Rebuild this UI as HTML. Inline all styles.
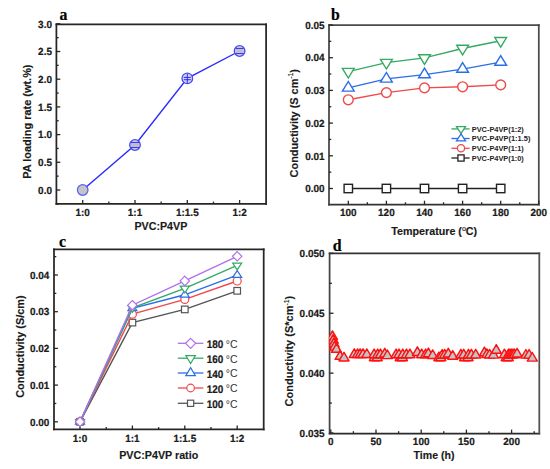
<!DOCTYPE html>
<html><head><meta charset="utf-8"><style>
html,body{margin:0;padding:0;background:#fff;}
svg{display:block;}
.tk{font-family:"Liberation Sans",sans-serif;font-weight:bold;font-size:10px;fill:#1a1a1a;stroke:#1a1a1a;stroke-width:0.2px;}
.tt{font-family:"Liberation Sans",sans-serif;font-weight:bold;font-size:10.5px;fill:#1a1a1a;stroke:#1a1a1a;stroke-width:0.15px;}
.lg{font-family:"Liberation Sans",sans-serif;font-weight:bold;font-size:7px;fill:#222;}
.dg{font-family:"Liberation Sans",sans-serif;font-size:10.5px;fill:#333;}
.lc{font-family:"Liberation Sans",sans-serif;font-weight:bold;font-size:10px;fill:#1a1a1a;stroke:#1a1a1a;stroke-width:0.2px;}
.pl{font-family:"Liberation Serif",serif;font-weight:bold;font-size:15.8px;fill:#000;stroke:#000;stroke-width:0.2px;}
</style></head><body>
<svg width="550" height="469" viewBox="0 0 550 469">
<defs><clipPath id="clipd"><rect x="328.90000000000003" y="253.4" width="209.69999999999993" height="180.1"/></clipPath></defs>
<rect width="550" height="469" fill="#fff"/>
<line x1="55.525" y1="24.3" x2="266.975" y2="24.3" stroke="#262626" stroke-width="1.75"/>
<line x1="55.525" y1="203.9" x2="266.975" y2="203.9" stroke="#262626" stroke-width="1.75"/>
<line x1="56.4" y1="23.425" x2="56.4" y2="204.775" stroke="#262626" stroke-width="1.75"/>
<line x1="266.1" y1="23.425" x2="266.1" y2="204.775" stroke="#262626" stroke-width="1.75"/>
<line x1="56.4" y1="190.00" x2="60.3" y2="190.00" stroke="#262626" stroke-width="1.3"/>
<line x1="56.4" y1="162.30" x2="60.3" y2="162.30" stroke="#262626" stroke-width="1.3"/>
<line x1="56.4" y1="134.60" x2="60.3" y2="134.60" stroke="#262626" stroke-width="1.3"/>
<line x1="56.4" y1="106.90" x2="60.3" y2="106.90" stroke="#262626" stroke-width="1.3"/>
<line x1="56.4" y1="79.20" x2="60.3" y2="79.20" stroke="#262626" stroke-width="1.3"/>
<line x1="56.4" y1="51.50" x2="60.3" y2="51.50" stroke="#262626" stroke-width="1.3"/>
<line x1="56.4" y1="23.80" x2="60.3" y2="23.80" stroke="#262626" stroke-width="1.3"/>
<line x1="56.4" y1="176.15" x2="58.699999999999996" y2="176.15" stroke="#262626" stroke-width="1.3"/>
<line x1="56.4" y1="148.45" x2="58.699999999999996" y2="148.45" stroke="#262626" stroke-width="1.3"/>
<line x1="56.4" y1="120.75" x2="58.699999999999996" y2="120.75" stroke="#262626" stroke-width="1.3"/>
<line x1="56.4" y1="93.05" x2="58.699999999999996" y2="93.05" stroke="#262626" stroke-width="1.3"/>
<line x1="56.4" y1="65.35" x2="58.699999999999996" y2="65.35" stroke="#262626" stroke-width="1.3"/>
<line x1="56.4" y1="37.65" x2="58.699999999999996" y2="37.65" stroke="#262626" stroke-width="1.3"/>
<line x1="56.4" y1="203.85" x2="58.699999999999996" y2="203.85" stroke="#262626" stroke-width="1.3"/>
<text transform="translate(52,193.70) skewX(0.2) scale(1,1.04)" class="tk" text-anchor="end">0.0</text>
<text transform="translate(52,166.00) skewX(0.2) scale(1,1.04)" class="tk" text-anchor="end">0.5</text>
<text transform="translate(52,138.30) skewX(0.2) scale(1,1.04)" class="tk" text-anchor="end">1.0</text>
<text transform="translate(52,110.60) skewX(0.2) scale(1,1.04)" class="tk" text-anchor="end">1.5</text>
<text transform="translate(52,82.90) skewX(0.2) scale(1,1.04)" class="tk" text-anchor="end">2.0</text>
<text transform="translate(52,55.20) skewX(0.2) scale(1,1.04)" class="tk" text-anchor="end">2.5</text>
<text transform="translate(52,27.50) skewX(0.2) scale(1,1.04)" class="tk" text-anchor="end">3.0</text>
<line x1="82.70" y1="203.9" x2="82.70" y2="200.0" stroke="#262626" stroke-width="1.3"/>
<line x1="135.00" y1="203.9" x2="135.00" y2="200.0" stroke="#262626" stroke-width="1.3"/>
<line x1="187.30" y1="203.9" x2="187.30" y2="200.0" stroke="#262626" stroke-width="1.3"/>
<line x1="239.60" y1="203.9" x2="239.60" y2="200.0" stroke="#262626" stroke-width="1.3"/>
<line x1="108.85" y1="203.9" x2="108.85" y2="201.6" stroke="#262626" stroke-width="1.3"/>
<line x1="161.15" y1="203.9" x2="161.15" y2="201.6" stroke="#262626" stroke-width="1.3"/>
<line x1="213.45" y1="203.9" x2="213.45" y2="201.6" stroke="#262626" stroke-width="1.3"/>
<text transform="translate(82.70,215.8) skewX(0.2) scale(1,1.04)" class="tk" text-anchor="middle">1:0</text>
<text transform="translate(135.00,215.8) skewX(0.2) scale(1,1.04)" class="tk" text-anchor="middle">1:1</text>
<text transform="translate(187.30,215.8) skewX(0.2) scale(1,1.04)" class="tk" text-anchor="middle">1:1.5</text>
<text transform="translate(239.60,215.8) skewX(0.2) scale(1,1.04)" class="tk" text-anchor="middle">1:2</text>
<text x="134.5" y="229.5" class="tt" textLength="52.8" lengthAdjust="spacingAndGlyphs">PVC:P4VP</text>
<text transform="translate(31,178.7) rotate(-90)" x="0" y="0" class="tt" textLength="114.2" lengthAdjust="spacingAndGlyphs">PA loading rate (wt.%)</text>
<text x="59.5" y="19.6" class="pl">a</text>
<polyline points="82.70,190.00 135.00,145.00 187.30,78.40 239.60,51.00" fill="none" stroke="#2a2aff" stroke-width="1.4"/>
<circle cx="82.70" cy="190.00" r="5.3" fill="#c4c4c8" stroke="#5a5af5" stroke-width="1.2"/>
<circle cx="135.00" cy="145.00" r="5.3" fill="#d4d4e8" stroke="#4848f4" stroke-width="1.3"/>
<rect x="131.00" y="142.80" width="8" height="4.4" fill="#c0c0c0"/>
<line x1="131.00" y1="142.40" x2="139.00" y2="142.40" stroke="#2a2aff" stroke-width="1"/>
<line x1="131.00" y1="147.60" x2="139.00" y2="147.60" stroke="#2a2aff" stroke-width="1"/>
<circle cx="187.30" cy="78.40" r="5.3" fill="#d4d4e8" stroke="#4848f4" stroke-width="1.3"/>
<line x1="187.30" y1="73.90" x2="187.30" y2="82.90" stroke="#2a2aff" stroke-width="1"/>
<line x1="183.80" y1="77.40" x2="190.80" y2="77.40" stroke="#2a2aff" stroke-width="1"/>
<line x1="183.80" y1="79.70" x2="190.80" y2="79.70" stroke="#2a2aff" stroke-width="1"/>
<circle cx="239.60" cy="51.00" r="5.3" fill="#d4d4e8" stroke="#4848f4" stroke-width="1.3"/>
<rect x="235.60" y="48.80" width="8" height="4.4" fill="#c0c0c0"/>
<line x1="235.60" y1="48.40" x2="243.60" y2="48.40" stroke="#2a2aff" stroke-width="1"/>
<line x1="235.60" y1="53.60" x2="243.60" y2="53.60" stroke="#2a2aff" stroke-width="1"/>
<line x1="328.125" y1="25.0" x2="539.675" y2="25.0" stroke="#4a4a4a" stroke-width="1.75"/>
<line x1="328.125" y1="204.6" x2="539.675" y2="204.6" stroke="#333" stroke-width="1.75"/>
<line x1="329.0" y1="24.125" x2="329.0" y2="205.475" stroke="#444" stroke-width="1.75"/>
<line x1="538.8" y1="24.125" x2="538.8" y2="205.475" stroke="#4a4a4a" stroke-width="1.75"/>
<line x1="329.0" y1="188.50" x2="332.9" y2="188.50" stroke="#262626" stroke-width="1.3"/>
<line x1="329.0" y1="155.80" x2="332.9" y2="155.80" stroke="#262626" stroke-width="1.3"/>
<line x1="329.0" y1="123.10" x2="332.9" y2="123.10" stroke="#262626" stroke-width="1.3"/>
<line x1="329.0" y1="90.40" x2="332.9" y2="90.40" stroke="#262626" stroke-width="1.3"/>
<line x1="329.0" y1="57.70" x2="332.9" y2="57.70" stroke="#262626" stroke-width="1.3"/>
<line x1="329.0" y1="25.00" x2="332.9" y2="25.00" stroke="#262626" stroke-width="1.3"/>
<line x1="329.0" y1="172.15" x2="331.3" y2="172.15" stroke="#262626" stroke-width="1.3"/>
<line x1="329.0" y1="139.45" x2="331.3" y2="139.45" stroke="#262626" stroke-width="1.3"/>
<line x1="329.0" y1="106.75" x2="331.3" y2="106.75" stroke="#262626" stroke-width="1.3"/>
<line x1="329.0" y1="74.05" x2="331.3" y2="74.05" stroke="#262626" stroke-width="1.3"/>
<line x1="329.0" y1="41.35" x2="331.3" y2="41.35" stroke="#262626" stroke-width="1.3"/>
<text transform="translate(324.6,192.20) skewX(0.2) scale(1,1.04)" class="tk" text-anchor="end">0.00</text>
<text transform="translate(324.6,159.50) skewX(0.2) scale(1,1.04)" class="tk" text-anchor="end">0.01</text>
<text transform="translate(324.6,126.80) skewX(0.2) scale(1,1.04)" class="tk" text-anchor="end">0.02</text>
<text transform="translate(324.6,94.10) skewX(0.2) scale(1,1.04)" class="tk" text-anchor="end">0.03</text>
<text transform="translate(324.6,61.40) skewX(0.2) scale(1,1.04)" class="tk" text-anchor="end">0.04</text>
<text transform="translate(324.6,28.70) skewX(0.2) scale(1,1.04)" class="tk" text-anchor="end">0.05</text>
<line x1="348.30" y1="204.6" x2="348.30" y2="200.7" stroke="#262626" stroke-width="1.3"/>
<line x1="386.40" y1="204.6" x2="386.40" y2="200.7" stroke="#262626" stroke-width="1.3"/>
<line x1="424.50" y1="204.6" x2="424.50" y2="200.7" stroke="#262626" stroke-width="1.3"/>
<line x1="462.60" y1="204.6" x2="462.60" y2="200.7" stroke="#262626" stroke-width="1.3"/>
<line x1="500.70" y1="204.6" x2="500.70" y2="200.7" stroke="#262626" stroke-width="1.3"/>
<line x1="538.80" y1="204.6" x2="538.80" y2="200.7" stroke="#262626" stroke-width="1.3"/>
<line x1="367.35" y1="204.6" x2="367.35" y2="202.29999999999998" stroke="#262626" stroke-width="1.3"/>
<line x1="405.45" y1="204.6" x2="405.45" y2="202.29999999999998" stroke="#262626" stroke-width="1.3"/>
<line x1="443.55" y1="204.6" x2="443.55" y2="202.29999999999998" stroke="#262626" stroke-width="1.3"/>
<line x1="481.65" y1="204.6" x2="481.65" y2="202.29999999999998" stroke="#262626" stroke-width="1.3"/>
<line x1="519.75" y1="204.6" x2="519.75" y2="202.29999999999998" stroke="#262626" stroke-width="1.3"/>
<text transform="translate(348.30,216.2) skewX(0.2) scale(1,1.04)" class="tk" text-anchor="middle">100</text>
<text transform="translate(386.40,216.2) skewX(0.2) scale(1,1.04)" class="tk" text-anchor="middle">120</text>
<text transform="translate(424.50,216.2) skewX(0.2) scale(1,1.04)" class="tk" text-anchor="middle">140</text>
<text transform="translate(462.60,216.2) skewX(0.2) scale(1,1.04)" class="tk" text-anchor="middle">160</text>
<text transform="translate(500.70,216.2) skewX(0.2) scale(1,1.04)" class="tk" text-anchor="middle">180</text>
<text transform="translate(538.80,216.2) skewX(0.2) scale(1,1.04)" class="tk" text-anchor="middle">200</text>
<text x="391.3" y="235.4" class="tt" textLength="85.9" lengthAdjust="spacingAndGlyphs">Temperature (<tspan font-size="7" font-weight="normal" dy="-4.2">o</tspan><tspan dy="4.2">C)</tspan></text>
<text transform="translate(297.6,177.4) rotate(-90)" x="0" y="0" class="tt" textLength="108.4" lengthAdjust="spacingAndGlyphs">Conductivity (S cm<tspan dy="-4.5" font-size="6.5" font-weight="normal">-1</tspan><tspan dy="4.5">)</tspan></text>
<text x="331.0" y="19.6" class="pl">b</text>
<polyline points="348.30,188.50 386.40,188.50 424.50,188.50 462.60,188.50 500.70,188.50" fill="none" stroke="#222" stroke-width="1.4"/>
<rect x="344.10" y="184.30" width="8.4" height="8.4" fill="white" stroke="#222" stroke-width="1.4"/>
<rect x="382.20" y="184.30" width="8.4" height="8.4" fill="white" stroke="#222" stroke-width="1.4"/>
<rect x="420.30" y="184.30" width="8.4" height="8.4" fill="white" stroke="#222" stroke-width="1.4"/>
<rect x="458.40" y="184.30" width="8.4" height="8.4" fill="white" stroke="#222" stroke-width="1.4"/>
<rect x="496.50" y="184.30" width="8.4" height="8.4" fill="white" stroke="#222" stroke-width="1.4"/>
<polyline points="348.30,99.80 386.40,92.60 424.50,87.90 462.60,86.80 500.70,84.90" fill="none" stroke="#ef4a4a" stroke-width="1.4"/>
<circle cx="348.30" cy="99.80" r="4.9" fill="white" stroke="#ef4a4a" stroke-width="1.4"/>
<circle cx="386.40" cy="92.60" r="4.9" fill="white" stroke="#ef4a4a" stroke-width="1.4"/>
<circle cx="424.50" cy="87.90" r="4.9" fill="white" stroke="#ef4a4a" stroke-width="1.4"/>
<circle cx="462.60" cy="86.80" r="4.9" fill="white" stroke="#ef4a4a" stroke-width="1.4"/>
<circle cx="500.70" cy="84.90" r="4.9" fill="white" stroke="#ef4a4a" stroke-width="1.4"/>
<polyline points="348.30,87.90 386.40,78.90 424.50,74.60 462.60,69.10 500.70,62.10" fill="none" stroke="#2a6ee6" stroke-width="1.4"/>
<polygon points="342.40,91.10 354.20,91.10 348.30,81.50" fill="white" stroke="#2a6ee6" stroke-width="1.4"/>
<polygon points="380.50,82.10 392.30,82.10 386.40,72.50" fill="white" stroke="#2a6ee6" stroke-width="1.4"/>
<polygon points="418.60,77.80 430.40,77.80 424.50,68.20" fill="white" stroke="#2a6ee6" stroke-width="1.4"/>
<polygon points="456.70,72.30 468.50,72.30 462.60,62.70" fill="white" stroke="#2a6ee6" stroke-width="1.4"/>
<polygon points="494.80,65.30 506.60,65.30 500.70,55.70" fill="white" stroke="#2a6ee6" stroke-width="1.4"/>
<polyline points="348.30,71.60 386.40,62.60 424.50,57.90 462.60,48.50 500.70,40.70" fill="none" stroke="#35aa64" stroke-width="1.4"/>
<polygon points="342.40,68.40 354.20,68.40 348.30,78.00" fill="white" stroke="#35aa64" stroke-width="1.4"/>
<polygon points="380.50,59.40 392.30,59.40 386.40,69.00" fill="white" stroke="#35aa64" stroke-width="1.4"/>
<polygon points="418.60,54.70 430.40,54.70 424.50,64.30" fill="white" stroke="#35aa64" stroke-width="1.4"/>
<polygon points="456.70,45.30 468.50,45.30 462.60,54.90" fill="white" stroke="#35aa64" stroke-width="1.4"/>
<polygon points="494.80,37.50 506.60,37.50 500.70,47.10" fill="white" stroke="#35aa64" stroke-width="1.4"/>
<line x1="451.4" y1="128.9" x2="469.6" y2="128.9" stroke="#35aa64" stroke-width="1.3"/>
<polygon points="456.50,126.57 465.50,126.57 461.00,133.57" fill="white" stroke="#35aa64" stroke-width="1.3"/>
<text x="471.8" y="131.70" class="lg" textLength="52.0" lengthAdjust="spacingAndGlyphs">PVC-P4VP(1:2)</text>
<line x1="451.4" y1="138.5" x2="469.6" y2="138.5" stroke="#2a6ee6" stroke-width="1.3"/>
<polygon points="456.50,140.83 465.50,140.83 461.00,133.83" fill="white" stroke="#2a6ee6" stroke-width="1.3"/>
<text x="471.8" y="141.30" class="lg" textLength="58.6" lengthAdjust="spacingAndGlyphs">PVC-P4VP(1:1.5)</text>
<line x1="451.4" y1="148.3" x2="469.6" y2="148.3" stroke="#ef4a4a" stroke-width="1.3"/>
<circle cx="461.00" cy="148.30" r="3.6" fill="white" stroke="#ef4a4a" stroke-width="1.3"/>
<text x="471.8" y="151.10" class="lg" textLength="52.0" lengthAdjust="spacingAndGlyphs">PVC-P4VP(1:1)</text>
<line x1="451.4" y1="158.0" x2="469.6" y2="158.0" stroke="#222" stroke-width="1.3"/>
<rect x="457.90" y="154.90" width="6.2" height="6.2" fill="white" stroke="#222" stroke-width="1.3"/>
<text x="471.8" y="160.80" class="lg" textLength="52.0" lengthAdjust="spacingAndGlyphs">PVC-P4VP(1:0)</text>
<line x1="53.125" y1="249.3" x2="264.575" y2="249.3" stroke="#262626" stroke-width="1.75"/>
<line x1="53.125" y1="429.4" x2="264.575" y2="429.4" stroke="#262626" stroke-width="1.75"/>
<line x1="54.0" y1="248.425" x2="54.0" y2="430.275" stroke="#262626" stroke-width="1.75"/>
<line x1="263.7" y1="248.425" x2="263.7" y2="430.275" stroke="#262626" stroke-width="1.75"/>
<line x1="54.0" y1="421.80" x2="57.9" y2="421.80" stroke="#262626" stroke-width="1.3"/>
<line x1="54.0" y1="385.10" x2="57.9" y2="385.10" stroke="#262626" stroke-width="1.3"/>
<line x1="54.0" y1="348.40" x2="57.9" y2="348.40" stroke="#262626" stroke-width="1.3"/>
<line x1="54.0" y1="311.70" x2="57.9" y2="311.70" stroke="#262626" stroke-width="1.3"/>
<line x1="54.0" y1="275.00" x2="57.9" y2="275.00" stroke="#262626" stroke-width="1.3"/>
<line x1="54.0" y1="403.45" x2="56.3" y2="403.45" stroke="#262626" stroke-width="1.3"/>
<line x1="54.0" y1="366.75" x2="56.3" y2="366.75" stroke="#262626" stroke-width="1.3"/>
<line x1="54.0" y1="330.05" x2="56.3" y2="330.05" stroke="#262626" stroke-width="1.3"/>
<line x1="54.0" y1="293.35" x2="56.3" y2="293.35" stroke="#262626" stroke-width="1.3"/>
<line x1="54.0" y1="256.65" x2="56.3" y2="256.65" stroke="#262626" stroke-width="1.3"/>
<text transform="translate(49.4,425.50) skewX(0.2) scale(1,1.04)" class="tk" text-anchor="end">0.00</text>
<text transform="translate(49.4,388.80) skewX(0.2) scale(1,1.04)" class="tk" text-anchor="end">0.01</text>
<text transform="translate(49.4,352.10) skewX(0.2) scale(1,1.04)" class="tk" text-anchor="end">0.02</text>
<text transform="translate(49.4,315.40) skewX(0.2) scale(1,1.04)" class="tk" text-anchor="end">0.03</text>
<text transform="translate(49.4,278.70) skewX(0.2) scale(1,1.04)" class="tk" text-anchor="end">0.04</text>
<line x1="80.00" y1="429.4" x2="80.00" y2="425.5" stroke="#262626" stroke-width="1.3"/>
<line x1="132.40" y1="429.4" x2="132.40" y2="425.5" stroke="#262626" stroke-width="1.3"/>
<line x1="184.80" y1="429.4" x2="184.80" y2="425.5" stroke="#262626" stroke-width="1.3"/>
<line x1="237.20" y1="429.4" x2="237.20" y2="425.5" stroke="#262626" stroke-width="1.3"/>
<line x1="106.20" y1="429.4" x2="106.20" y2="427.09999999999997" stroke="#262626" stroke-width="1.3"/>
<line x1="158.60" y1="429.4" x2="158.60" y2="427.09999999999997" stroke="#262626" stroke-width="1.3"/>
<line x1="211.00" y1="429.4" x2="211.00" y2="427.09999999999997" stroke="#262626" stroke-width="1.3"/>
<text transform="translate(80.00,441.5) skewX(0.2) scale(1,1.04)" class="tk" text-anchor="middle">1:0</text>
<text transform="translate(132.40,441.5) skewX(0.2) scale(1,1.04)" class="tk" text-anchor="middle">1:1</text>
<text transform="translate(184.80,441.5) skewX(0.2) scale(1,1.04)" class="tk" text-anchor="middle">1:1.5</text>
<text transform="translate(237.20,441.5) skewX(0.2) scale(1,1.04)" class="tk" text-anchor="middle">1:2</text>
<text x="119.2" y="458.8" class="tt" textLength="79.0" lengthAdjust="spacingAndGlyphs">PVC:P4VP ratio</text>
<text transform="translate(23.6,397.8) rotate(-90)" x="0" y="0" class="tt" textLength="102.5" lengthAdjust="spacingAndGlyphs">Conductivity (S/cm)</text>
<text x="58.9" y="247.0" class="pl">c</text>
<polyline points="80.00,421.80 132.40,322.60 184.80,309.40 237.20,290.80" fill="none" stroke="#555" stroke-width="1.4"/>
<rect x="76.70" y="418.50" width="6.6" height="6.6" fill="white" stroke="#555" stroke-width="1.2"/>
<rect x="129.10" y="319.30" width="6.6" height="6.6" fill="white" stroke="#555" stroke-width="1.2"/>
<rect x="181.50" y="306.10" width="6.6" height="6.6" fill="white" stroke="#555" stroke-width="1.2"/>
<rect x="233.90" y="287.50" width="6.6" height="6.6" fill="white" stroke="#555" stroke-width="1.2"/>
<polyline points="80.00,421.80 132.40,314.20 184.80,299.40 237.20,281.00" fill="none" stroke="#ef4a4a" stroke-width="1.4"/>
<circle cx="80.00" cy="421.80" r="4.0" fill="white" stroke="#ef4a4a" stroke-width="1.2"/>
<circle cx="132.40" cy="314.20" r="4.0" fill="white" stroke="#ef4a4a" stroke-width="1.2"/>
<circle cx="184.80" cy="299.40" r="4.0" fill="white" stroke="#ef4a4a" stroke-width="1.2"/>
<circle cx="237.20" cy="281.00" r="4.0" fill="white" stroke="#ef4a4a" stroke-width="1.2"/>
<polyline points="80.00,421.80 132.40,308.40 184.80,294.80 237.20,275.20" fill="none" stroke="#2a6ee6" stroke-width="1.4"/>
<polygon points="75.50,424.07 84.50,424.07 80.00,417.27" fill="white" stroke="#2a6ee6" stroke-width="1.2"/>
<polygon points="127.90,310.67 136.90,310.67 132.40,303.87" fill="white" stroke="#2a6ee6" stroke-width="1.2"/>
<polygon points="180.30,297.07 189.30,297.07 184.80,290.27" fill="white" stroke="#2a6ee6" stroke-width="1.2"/>
<polygon points="232.70,277.47 241.70,277.47 237.20,270.67" fill="white" stroke="#2a6ee6" stroke-width="1.2"/>
<polyline points="80.00,421.80 132.40,307.80 184.80,288.40 237.20,265.30" fill="none" stroke="#35aa64" stroke-width="1.4"/>
<polygon points="75.50,419.53 84.50,419.53 80.00,426.33" fill="white" stroke="#35aa64" stroke-width="1.2"/>
<polygon points="127.90,305.53 136.90,305.53 132.40,312.33" fill="white" stroke="#35aa64" stroke-width="1.2"/>
<polygon points="180.30,286.13 189.30,286.13 184.80,292.93" fill="white" stroke="#35aa64" stroke-width="1.2"/>
<polygon points="232.70,263.03 241.70,263.03 237.20,269.83" fill="white" stroke="#35aa64" stroke-width="1.2"/>
<polyline points="80.00,421.80 132.40,305.20 184.80,280.90 237.20,256.30" fill="none" stroke="#b070ea" stroke-width="1.4"/>
<polygon points="80.00,417.10 84.70,421.80 80.00,426.50 75.30,421.80" fill="white" stroke="#b070ea" stroke-width="1.2"/>
<polygon points="132.40,300.50 137.10,305.20 132.40,309.90 127.70,305.20" fill="white" stroke="#b070ea" stroke-width="1.2"/>
<polygon points="184.80,276.20 189.50,280.90 184.80,285.60 180.10,280.90" fill="white" stroke="#b070ea" stroke-width="1.2"/>
<polygon points="237.20,251.60 241.90,256.30 237.20,261.00 232.50,256.30" fill="white" stroke="#b070ea" stroke-width="1.2"/>
<line x1="177.8" y1="343.3" x2="203.4" y2="343.3" stroke="#b070ea" stroke-width="1.3"/>
<polygon points="190.60,338.30 195.60,343.30 190.60,348.30 185.60,343.30" fill="white" stroke="#b070ea" stroke-width="1.2"/>
<text transform="translate(206.8,347.90) skewX(0.2) scale(1,1.1)" class="lc" textLength="16.6" lengthAdjust="spacingAndGlyphs">180</text>
<text x="225.8" y="347.60" class="dg">°C</text>
<line x1="177.8" y1="358.2" x2="203.4" y2="358.2" stroke="#35aa64" stroke-width="1.3"/>
<polygon points="185.85,355.53 195.35,355.53 190.60,363.53" fill="white" stroke="#35aa64" stroke-width="1.2"/>
<text transform="translate(206.8,362.80) skewX(0.2) scale(1,1.1)" class="lc" textLength="16.6" lengthAdjust="spacingAndGlyphs">160</text>
<text x="225.8" y="362.50" class="dg">°C</text>
<line x1="177.8" y1="373.0" x2="203.4" y2="373.0" stroke="#2a6ee6" stroke-width="1.3"/>
<polygon points="185.85,375.67 195.35,375.67 190.60,367.67" fill="white" stroke="#2a6ee6" stroke-width="1.2"/>
<text transform="translate(206.8,377.60) skewX(0.2) scale(1,1.1)" class="lc" textLength="16.6" lengthAdjust="spacingAndGlyphs">140</text>
<text x="225.8" y="377.30" class="dg">°C</text>
<line x1="177.8" y1="388.0" x2="203.4" y2="388.0" stroke="#ef4a4a" stroke-width="1.3"/>
<circle cx="190.60" cy="388.00" r="3.8" fill="white" stroke="#ef4a4a" stroke-width="1.2"/>
<text transform="translate(206.8,392.60) skewX(0.2) scale(1,1.1)" class="lc" textLength="16.6" lengthAdjust="spacingAndGlyphs">120</text>
<text x="225.8" y="392.30" class="dg">°C</text>
<line x1="177.8" y1="403.3" x2="203.4" y2="403.3" stroke="#555" stroke-width="1.3"/>
<rect x="187.50" y="400.20" width="6.2" height="6.2" fill="white" stroke="#555" stroke-width="1.2"/>
<text transform="translate(206.8,407.90) skewX(0.2) scale(1,1.1)" class="lc" textLength="16.6" lengthAdjust="spacingAndGlyphs">100</text>
<text x="225.8" y="407.60" class="dg">°C</text>
<line x1="328.725" y1="253.4" x2="540.175" y2="253.4" stroke="#333" stroke-width="1.75"/>
<line x1="328.725" y1="433.5" x2="540.175" y2="433.5" stroke="#2a2a2a" stroke-width="1.75"/>
<line x1="329.6" y1="252.525" x2="329.6" y2="434.375" stroke="#444" stroke-width="1.75"/>
<line x1="539.3" y1="252.525" x2="539.3" y2="434.375" stroke="#505050" stroke-width="1.75"/>
<line x1="329.6" y1="433.00" x2="333.5" y2="433.00" stroke="#262626" stroke-width="1.3"/>
<line x1="329.6" y1="373.14" x2="333.5" y2="373.14" stroke="#262626" stroke-width="1.3"/>
<line x1="329.6" y1="313.27" x2="333.5" y2="313.27" stroke="#262626" stroke-width="1.3"/>
<line x1="329.6" y1="253.41" x2="333.5" y2="253.41" stroke="#262626" stroke-width="1.3"/>
<line x1="329.6" y1="403.07" x2="331.90000000000003" y2="403.07" stroke="#262626" stroke-width="1.3"/>
<line x1="329.6" y1="343.20" x2="331.90000000000003" y2="343.20" stroke="#262626" stroke-width="1.3"/>
<line x1="329.6" y1="283.34" x2="331.90000000000003" y2="283.34" stroke="#262626" stroke-width="1.3"/>
<text transform="translate(324.6,436.70) skewX(0.2) scale(1,1.04)" class="tk" text-anchor="end">0.035</text>
<text transform="translate(324.6,376.84) skewX(0.2) scale(1,1.04)" class="tk" text-anchor="end">0.040</text>
<text transform="translate(324.6,316.97) skewX(0.2) scale(1,1.04)" class="tk" text-anchor="end">0.045</text>
<text transform="translate(324.6,257.11) skewX(0.2) scale(1,1.04)" class="tk" text-anchor="end">0.050</text>
<line x1="330.80" y1="433.5" x2="330.80" y2="429.6" stroke="#262626" stroke-width="1.3"/>
<line x1="376.00" y1="433.5" x2="376.00" y2="429.6" stroke="#262626" stroke-width="1.3"/>
<line x1="421.20" y1="433.5" x2="421.20" y2="429.6" stroke="#262626" stroke-width="1.3"/>
<line x1="466.40" y1="433.5" x2="466.40" y2="429.6" stroke="#262626" stroke-width="1.3"/>
<line x1="511.60" y1="433.5" x2="511.60" y2="429.6" stroke="#262626" stroke-width="1.3"/>
<line x1="353.40" y1="433.5" x2="353.40" y2="431.2" stroke="#262626" stroke-width="1.3"/>
<line x1="398.60" y1="433.5" x2="398.60" y2="431.2" stroke="#262626" stroke-width="1.3"/>
<line x1="443.80" y1="433.5" x2="443.80" y2="431.2" stroke="#262626" stroke-width="1.3"/>
<line x1="489.00" y1="433.5" x2="489.00" y2="431.2" stroke="#262626" stroke-width="1.3"/>
<line x1="534.20" y1="433.5" x2="534.20" y2="431.2" stroke="#262626" stroke-width="1.3"/>
<text transform="translate(330.80,444.9) skewX(0.2) scale(1,1.04)" class="tk" text-anchor="middle">0</text>
<text transform="translate(376.00,444.9) skewX(0.2) scale(1,1.04)" class="tk" text-anchor="middle">50</text>
<text transform="translate(421.20,444.9) skewX(0.2) scale(1,1.04)" class="tk" text-anchor="middle">100</text>
<text transform="translate(466.40,444.9) skewX(0.2) scale(1,1.04)" class="tk" text-anchor="middle">150</text>
<text transform="translate(511.60,444.9) skewX(0.2) scale(1,1.04)" class="tk" text-anchor="middle">200</text>
<text x="413.6" y="459.1" class="tt" textLength="40.9" lengthAdjust="spacingAndGlyphs">Time (h)</text>
<text transform="translate(293.3,406.4) rotate(-90)" x="0" y="0" class="tt" textLength="110.6" lengthAdjust="spacingAndGlyphs">Conductivity (S*cm<tspan dy="-4.5" font-size="6.5" font-weight="normal">-1</tspan><tspan dy="4.5">)</tspan></text>
<text x="332.8" y="250.5" class="pl">d</text>
<g clip-path="url(#clipd)" stroke-linejoin="round">
<polygon points="327.50,339.50 337.50,339.50 332.50,330.90" fill="#c3c3c3" stroke="#ff1010" stroke-width="1.45"/>
<polygon points="328.20,343.20 338.20,343.20 333.20,334.60" fill="#c3c3c3" stroke="#ff1010" stroke-width="1.45"/>
<polygon points="328.90,346.70 338.90,346.70 333.90,338.10" fill="#c3c3c3" stroke="#ff1010" stroke-width="1.45"/>
<polygon points="329.60,349.90 339.60,349.90 334.60,341.30" fill="#c3c3c3" stroke="#ff1010" stroke-width="1.45"/>
<polygon points="331.50,352.30 341.50,352.30 336.50,343.70" fill="#c3c3c3" stroke="#ff1010" stroke-width="1.45"/>
<polygon points="335.10,359.30 345.10,359.30 340.10,350.70" fill="#c3c3c3" stroke="#ff1010" stroke-width="1.45"/>
<polygon points="339.00,360.90 349.00,360.90 344.00,352.30" fill="#c3c3c3" stroke="#ff1010" stroke-width="1.45"/>
<polygon points="349.30,357.40 359.30,357.40 354.30,348.80" fill="#c3c3c3" stroke="#ff1010" stroke-width="1.45"/>
<polygon points="352.60,357.50 362.60,357.50 357.60,348.90" fill="#c3c3c3" stroke="#ff1010" stroke-width="1.45"/>
<polygon points="355.20,357.50 365.20,357.50 360.20,348.90" fill="#c3c3c3" stroke="#ff1010" stroke-width="1.45"/>
<polygon points="358.00,357.40 368.00,357.40 363.00,348.80" fill="#c3c3c3" stroke="#ff1010" stroke-width="1.45"/>
<polygon points="361.80,357.50 371.80,357.50 366.80,348.90" fill="#c3c3c3" stroke="#ff1010" stroke-width="1.45"/>
<polygon points="369.40,360.70 379.40,360.70 374.40,352.10" fill="#c3c3c3" stroke="#ff1010" stroke-width="1.45"/>
<polygon points="372.20,360.70 382.20,360.70 377.20,352.10" fill="#c3c3c3" stroke="#ff1010" stroke-width="1.45"/>
<polygon points="369.10,357.70 379.10,357.70 374.10,349.10" fill="#c3c3c3" stroke="#ff1010" stroke-width="1.45"/>
<polygon points="372.70,357.70 382.70,357.70 377.70,349.10" fill="#c3c3c3" stroke="#ff1010" stroke-width="1.45"/>
<polygon points="375.50,357.70 385.50,357.70 380.50,349.10" fill="#c3c3c3" stroke="#ff1010" stroke-width="1.45"/>
<polygon points="379.80,356.90 389.80,356.90 384.80,348.30" fill="#c3c3c3" stroke="#ff1010" stroke-width="1.45"/>
<polygon points="382.40,358.60 392.40,358.60 387.40,350.00" fill="#c3c3c3" stroke="#ff1010" stroke-width="1.45"/>
<polygon points="395.30,360.70 405.30,360.70 400.30,352.10" fill="#c3c3c3" stroke="#ff1010" stroke-width="1.45"/>
<polygon points="397.40,360.70 407.40,360.70 402.40,352.10" fill="#c3c3c3" stroke="#ff1010" stroke-width="1.45"/>
<polygon points="391.10,357.70 401.10,357.70 396.10,349.10" fill="#c3c3c3" stroke="#ff1010" stroke-width="1.45"/>
<polygon points="394.00,357.70 404.00,357.70 399.00,349.10" fill="#c3c3c3" stroke="#ff1010" stroke-width="1.45"/>
<polygon points="397.80,357.70 407.80,357.70 402.80,349.10" fill="#c3c3c3" stroke="#ff1010" stroke-width="1.45"/>
<polygon points="401.50,357.70 411.50,357.70 406.50,349.10" fill="#c3c3c3" stroke="#ff1010" stroke-width="1.45"/>
<polygon points="404.90,357.70 414.90,357.70 409.90,349.10" fill="#c3c3c3" stroke="#ff1010" stroke-width="1.45"/>
<polygon points="412.40,355.40 422.40,355.40 417.40,346.80" fill="#c3c3c3" stroke="#ff1010" stroke-width="1.45"/>
<polygon points="416.70,357.70 426.70,357.70 421.70,349.10" fill="#c3c3c3" stroke="#ff1010" stroke-width="1.45"/>
<polygon points="420.60,357.70 430.60,357.70 425.60,349.10" fill="#c3c3c3" stroke="#ff1010" stroke-width="1.45"/>
<polygon points="423.40,356.70 433.40,356.70 428.40,348.10" fill="#c3c3c3" stroke="#ff1010" stroke-width="1.45"/>
<polygon points="427.70,358.50 437.70,358.50 432.70,349.90" fill="#c3c3c3" stroke="#ff1010" stroke-width="1.45"/>
<polygon points="433.90,360.70 443.90,360.70 438.90,352.10" fill="#c3c3c3" stroke="#ff1010" stroke-width="1.45"/>
<polygon points="435.80,360.70 445.80,360.70 440.80,352.10" fill="#c3c3c3" stroke="#ff1010" stroke-width="1.45"/>
<polygon points="437.20,358.20 447.20,358.20 442.20,349.60" fill="#c3c3c3" stroke="#ff1010" stroke-width="1.45"/>
<polygon points="439.70,358.00 449.70,358.00 444.70,349.40" fill="#c3c3c3" stroke="#ff1010" stroke-width="1.45"/>
<polygon points="443.30,356.90 453.30,356.90 448.30,348.30" fill="#c3c3c3" stroke="#ff1010" stroke-width="1.45"/>
<polygon points="447.70,359.20 457.70,359.20 452.70,350.60" fill="#c3c3c3" stroke="#ff1010" stroke-width="1.45"/>
<polygon points="459.60,360.70 469.60,360.70 464.60,352.10" fill="#c3c3c3" stroke="#ff1010" stroke-width="1.45"/>
<polygon points="463.00,360.70 473.00,360.70 468.00,352.10" fill="#c3c3c3" stroke="#ff1010" stroke-width="1.45"/>
<polygon points="455.90,357.90 465.90,357.90 460.90,349.30" fill="#c3c3c3" stroke="#ff1010" stroke-width="1.45"/>
<polygon points="458.70,357.90 468.70,357.90 463.70,349.30" fill="#c3c3c3" stroke="#ff1010" stroke-width="1.45"/>
<polygon points="463.50,357.90 473.50,357.90 468.50,349.30" fill="#c3c3c3" stroke="#ff1010" stroke-width="1.45"/>
<polygon points="466.40,357.90 476.40,357.90 471.40,349.30" fill="#c3c3c3" stroke="#ff1010" stroke-width="1.45"/>
<polygon points="470.70,357.90 480.70,357.90 475.70,349.30" fill="#c3c3c3" stroke="#ff1010" stroke-width="1.45"/>
<polygon points="479.40,355.80 489.40,355.80 484.40,347.20" fill="#c3c3c3" stroke="#ff1010" stroke-width="1.45"/>
<polygon points="481.90,357.50 491.90,357.50 486.90,348.90" fill="#c3c3c3" stroke="#ff1010" stroke-width="1.45"/>
<polygon points="484.60,358.00 494.60,358.00 489.60,349.40" fill="#c3c3c3" stroke="#ff1010" stroke-width="1.45"/>
<polygon points="488.50,358.10 498.50,358.10 493.50,349.50" fill="#c3c3c3" stroke="#ff1010" stroke-width="1.45"/>
<polygon points="491.30,353.30 501.30,353.30 496.30,344.70" fill="#c3c3c3" stroke="#ff1010" stroke-width="1.45"/>
<polygon points="501.20,360.70 511.20,360.70 506.20,352.10" fill="#c3c3c3" stroke="#ff1010" stroke-width="1.45"/>
<polygon points="503.20,360.70 513.20,360.70 508.20,352.10" fill="#c3c3c3" stroke="#ff1010" stroke-width="1.45"/>
<polygon points="499.40,357.80 509.40,357.80 504.40,349.20" fill="#c3c3c3" stroke="#ff1010" stroke-width="1.45"/>
<polygon points="503.50,357.70 513.50,357.70 508.50,349.10" fill="#c3c3c3" stroke="#ff1010" stroke-width="1.45"/>
<polygon points="505.00,357.70 515.00,357.70 510.00,349.10" fill="#c3c3c3" stroke="#ff1010" stroke-width="1.45"/>
<polygon points="506.50,357.70 516.50,357.70 511.50,349.10" fill="#c3c3c3" stroke="#ff1010" stroke-width="1.45"/>
<polygon points="508.00,357.70 518.00,357.70 513.00,349.10" fill="#c3c3c3" stroke="#ff1010" stroke-width="1.45"/>
<polygon points="509.50,357.70 519.50,357.70 514.50,349.10" fill="#c3c3c3" stroke="#ff1010" stroke-width="1.45"/>
<polygon points="512.10,356.90 522.10,356.90 517.10,348.30" fill="#c3c3c3" stroke="#ff1010" stroke-width="1.45"/>
<polygon points="520.90,358.10 530.90,358.10 525.90,349.50" fill="#c3c3c3" stroke="#ff1010" stroke-width="1.45"/>
<polygon points="524.10,358.10 534.10,358.10 529.10,349.50" fill="#c3c3c3" stroke="#ff1010" stroke-width="1.45"/>
<polygon points="527.30,361.10 537.30,361.10 532.30,352.50" fill="#c3c3c3" stroke="#ff1010" stroke-width="1.45"/>
</g>
</svg>
</body></html>
